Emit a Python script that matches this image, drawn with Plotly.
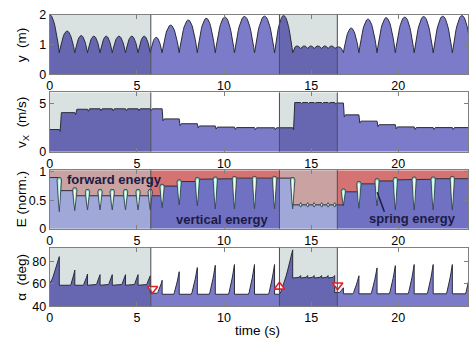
import numpy as np
import plotly.graph_objects as go

# ---------------- data ----------------
# time axis and the two highlighted control intervals (s)
t_max = 24.0
shade_start = [0.0, 13.18]
shade_end = [5.8, 16.5]

# touchdown instants (s); flight k ends at touchdown_t[k]
touchdown_t = [0.55, 1.44, 2.17, 2.89, 3.59, 4.35, 5.07, 5.77, 6.45, 7.43,
               8.47, 9.50, 10.60, 11.75, 12.90, 13.94, 14.40, 14.80, 15.17, 15.60,
               15.97, 16.35, 16.85, 17.74, 18.78, 19.83, 20.91, 22.00, 23.10, 24.20]

# hopping height: apex of each flight and body height at each touchdown (m)
apex_y = [2.00, 1.45, 1.30, 1.28, 1.28, 1.28, 1.28, 1.28, 1.24, 1.65,
          1.82, 1.88, 1.92, 1.94, 1.95, 1.97, 0.95, 0.95, 0.95, 0.95,
          0.95, 0.95, 0.92, 1.55, 1.85, 1.90, 1.92, 1.94, 1.95, 1.97]
touchdown_y = [0.72, 0.72, 0.72, 0.72, 0.72, 0.72, 0.72, 0.72, 0.72, 0.72,
               0.72, 0.72, 0.72, 0.72, 0.72, 0.72, 0.86, 0.86, 0.86, 0.86,
               0.86, 0.86, 0.72, 0.72, 0.72, 0.72, 0.72, 0.72, 0.72, 0.72]

# forward speed during each flight and its dip at touchdown (m/s)
flight_vx = [2.30, 4.05, 4.40, 4.45, 4.45, 4.45, 4.45, 4.45, 4.45, 3.40,
             2.90, 2.67, 2.55, 2.50, 2.48, 2.48, 5.10, 5.10, 5.10, 5.10,
             5.10, 5.10, 5.05, 3.82, 3.17, 2.80, 2.57, 2.50, 2.50, 2.50]
vx_dip = [0.20, 0.20, 0.20, 0.20, 0.20, 0.20, 0.20, 0.20, 0.20, 0.20,
          0.20, 0.20, 0.20, 0.20, 0.20, 0.20, 0.10, 0.10, 0.10, 0.10,
          0.10, 0.10, 0.20, 0.20, 0.20, 0.20, 0.20, 0.20, 0.20, 0.20]

# normalised energy: vertical share during each flight, spring energy spikes
flight_E_vert = [0.90, 0.67, 0.58, 0.58, 0.58, 0.58, 0.58, 0.58, 0.58, 0.75,
                 0.83, 0.87, 0.88, 0.89, 0.89, 0.89, 0.42, 0.42, 0.42, 0.42,
                 0.42, 0.42, 0.42, 0.65, 0.79, 0.84, 0.86, 0.87, 0.88, 0.88]
spike_top = [0.90, 0.72, 0.69, 0.69, 0.69, 0.69, 0.69, 0.69, 0.78, 0.86,
             0.90, 0.91, 0.92, 0.92, 0.92, 0.90, 0.46, 0.46, 0.46, 0.46,
             0.46, 0.46, 0.70, 0.83, 0.88, 0.90, 0.91, 0.91, 0.92, 0.92]
spike_bottom = [0.30, 0.32, 0.33, 0.33, 0.33, 0.33, 0.33, 0.33, 0.37, 0.42,
                0.40, 0.35, 0.35, 0.35, 0.35, 0.35, 0.38, 0.38, 0.38, 0.38,
                0.38, 0.38, 0.40, 0.36, 0.40, 0.33, 0.33, 0.33, 0.33, 0.33]
E_total = 1.03

# leg angle: flight plateau, value at touchdown, duration of the swing ramp
alpha_base = [60.0, 58.6, 58.6, 58.6, 58.6, 58.6, 58.6, 58.6, 51.5, 50.6,
              50.6, 50.6, 50.6, 50.6, 50.6, 50.6, 65.0, 65.0, 65.0, 65.0,
              65.0, 65.0, 52.0, 51.0, 51.0, 51.0, 51.0, 51.0, 51.0, 51.0]
alpha_peak = [84.0, 72.0, 68.6, 68.0, 68.0, 68.0, 68.0, 67.0, 63.0, 70.6,
              74.3, 76.3, 77.0, 77.0, 77.0, 90.0, 67.2, 67.2, 67.2, 67.2,
              67.2, 67.2, 56.3, 67.0, 74.0, 76.0, 77.0, 77.0, 77.0, 77.0]
alpha_ramp = [0.55, 0.25, 0.25, 0.25, 0.25, 0.25, 0.25, 0.25, 0.28, 0.32,
              0.35, 0.35, 0.35, 0.35, 0.35, 0.76, 0.15, 0.15, 0.15, 0.15,
              0.15, 0.15, 0.25, 0.35, 0.35, 0.35, 0.35, 0.35, 0.35, 0.35]

# controller switching events
switch_t = [5.90, 13.18, 16.52]
switch_alpha = [55.5, 57.2, 58.6]
switch_symbol = ["triangle-down", "triangle-up", "triangle-down"]

x_ticks = [0, 5, 10, 15, 20]

# ---------------- curves ----------------
n = len(touchdown_t)

# body height: ballistic arcs between touchdowns
hx, hy = [], []
t0 = 0.0
for k, t1 in enumerate(touchdown_t):
    h, y1 = apex_y[k], touchdown_y[k]
    s = np.linspace(0, 1, 14)
    if k == 0:
        hx += list(t0 + (t1 - t0) * s)
        hy += list(h - (h - y1) * s ** 2)
    else:
        y0 = touchdown_y[k - 1]
        tm = 0.5 * (t0 + t1)
        hx += list(t0 + (tm - t0) * s[1:])
        hy += list(y0 + (h - y0) * (1 - (1 - s[1:]) ** 2))
        hx += list(tm + (t1 - tm) * s[1:])
        hy += list(h - (h - y1) * s[1:] ** 2)
    t0 = t1

# forward speed: constant in flight, notch during stance
vx_x, vx_y = [0.0], [flight_vx[0]]
for k, t in enumerate(touchdown_t):
    v0 = flight_vx[k]
    v1 = flight_vx[k + 1] if k + 1 < n else v0
    vx_x += [t, t + 0.05, t + 0.12]
    vx_y += [v0, min(v0, v1) - vx_dip[k], v1]

# vertical energy level (steps at touchdown)
ex, ey = [0.0], [flight_E_vert[0]]
for k, t in enumerate(touchdown_t):
    nxt = flight_E_vert[k + 1] if k + 1 < n else flight_E_vert[k]
    ex += [t, t]
    ey += [flight_E_vert[k], nxt]

# leg angle: plateau, swing ramp up to touchdown, drop to next plateau
ax_, ay_ = [0.0], [alpha_base[0]]
for k, t in enumerate(touchdown_t):
    b, p, r = alpha_base[k], alpha_peak[k], alpha_ramp[k]
    s = np.linspace(0, 1, 9)
    ax_ += list(t - r + r * s)
    ay_ += list(b + (p - b) * s ** 1.3)
    if k + 1 < n:
        ax_ += [t]
        ay_ += [alpha_base[k + 1]]

# ---------------- layout helpers ----------------
W, H = 474, 349
x_dom = [47 / W, 468 / W]
panels_px = [(8, 70), (89, 150.7), (170, 231), (250.7, 311.7)]
y_ranges = [[0, 2], [0, 6.15], [0, E_total], [40, 92]]
y_ticks = [[0, 1, 2], [0, 5], [0, 0.5, 1], [40, 60, 80]]
y_titles = ["y  (m)", "v<sub>X</sub>  (m/s)", "E (norm.)", "\u03b1  (deg)"]

regions = []
edges = [0.0]
for a, b in zip(shade_start, shade_end):
    if a > edges[-1]:
        regions.append((edges[-1], a, False))
    regions.append((a, b, True))
    edges.append(b)
regions.append((edges[-1], t_max + 1, False))

AX = [("x", "y"), ("x2", "y2"), ("x3", "y3"), ("x4", "y4")]

LINE = "#2b2b3a"
FILL_OUT = "#7b7bc9"
FILL_IN = "#6767b1"
SHADE_BG = "#d9e1e1"
E_BOT_OUT, E_BOT_IN = "#7171c3", "#a0a8d9"
E_TOP_OUT, E_TOP_IN = "#d57373", "#c9a2a1"

fig = go.Figure()


def clip(x, y, a, b):
    x = np.asarray(x, float)
    y = np.asarray(y, float)
    m = (x > a) & (x < b)
    xa = [a] + list(x[m]) + [b]
    ya = [float(np.interp(a, x, y))] + list(y[m]) + [float(np.interp(b, x, y))]
    return xa, ya


def add_area(ax, xs, ys, base, c_in, c_out):
    for a, b, inside in regions:
        xa, ya = clip(xs, ys, a, b)
        fig.add_trace(go.Scatter(
            x=xa + [b, a], y=ya + [base, base], mode="lines", fill="toself",
            fillcolor=c_in if inside else c_out, line=dict(width=0),
            hoverinfo="skip", showlegend=False, xaxis=ax[0], yaxis=ax[1]))


def add_outline(ax, xs, ys):
    fig.add_trace(go.Scatter(
        x=xs, y=ys, mode="lines", line=dict(color=LINE, width=1),
        hoverinfo="skip", showlegend=False, xaxis=ax[0], yaxis=ax[1]))


# panel 1: height
add_area(AX[0], hx, hy, 0, FILL_IN, FILL_OUT)
add_outline(AX[0], hx, hy)

# panel 2: forward speed
add_area(AX[1], vx_x, vx_y, 0, FILL_IN, FILL_OUT)
add_outline(AX[1], vx_x, vx_y)

# panel 3: energy partition
add_area(AX[2], ex, ey, 0, E_BOT_IN, E_BOT_OUT)
add_area(AX[2], ex, ey, E_total, E_TOP_IN, E_TOP_OUT)
add_outline(AX[2], ex, ey)

# spring energy spikes (needle shape during stance)
outer_x, outer_y, inner_x, inner_y = [], [], [], []
for t, top, bot in zip(touchdown_t, spike_top, spike_bottom):
    h = top - bot
    if h > 0.2:
        w = 0.13
        px = [t - w, t - 0.6 * w, t + 0.6 * w, t + w, t + 0.7 * w, t + 0.35 * w, t,
              t - 0.35 * w, t - 0.7 * w, t - w]
        py = [top - 0.04, top, top, top - 0.04, top - 0.35 * h, top - 0.75 * h, bot,
              top - 0.75 * h, top - 0.35 * h, top - 0.04]
        wi = 0.45 * w
        qx = [t - wi, t, t + wi, t + 0.6 * wi, t, t - 0.6 * wi, t - wi]
        qy = [top - 0.05, top - 0.02, top - 0.05, top - 0.45 * h, bot + 0.08,
              top - 0.45 * h, top - 0.05]
    else:
        w = 0.07
        mid = 0.5 * (top + bot)
        px = [t - w, t, t + w, t, t - w]
        py = [mid, top, mid, bot, mid]
        qx = [t - 0.5 * w, t, t + 0.5 * w, t, t - 0.5 * w]
        qy = [mid, mid + 0.5 * (top - mid), mid, mid - 0.5 * (mid - bot), mid]
    outer_x += px + [None]
    outer_y += py + [None]
    inner_x += qx + [None]
    inner_y += qy + [None]

fig.add_trace(go.Scatter(x=outer_x, y=outer_y, mode="lines", fill="toself",
                         fillcolor="#86d6c8", line=dict(color="#3a4450", width=0.9),
                         hoverinfo="skip", showlegend=False, xaxis="x3", yaxis="y3"))
fig.add_trace(go.Scatter(x=inner_x, y=inner_y, mode="lines", fill="toself",
                         fillcolor="#f4ffe8", line=dict(width=0),
                         hoverinfo="skip", showlegend=False, xaxis="x3", yaxis="y3"))

# panel 4: leg angle
add_area(AX[3], ax_, ay_, 0, FILL_IN, FILL_OUT)
add_outline(AX[3], ax_, ay_)
fig.add_trace(go.Scatter(
    x=switch_t, y=switch_alpha, mode="markers",
    marker=dict(symbol=switch_symbol, size=9, color="white",
                line=dict(color="#e0202a", width=1.6)),
    cliponaxis=False, hoverinfo="skip", showlegend=False, xaxis="x4", yaxis="y4"))

# ---------------- axes, shading, labels ----------------
shapes = []
annotations = []
layout = dict(
    width=W, height=H, margin=dict(l=0, r=0, t=0, b=0),
    paper_bgcolor="white", plot_bgcolor="white",
    font=dict(family="Arial, Liberation Sans, sans-serif", size=12.5, color="black"),
    showlegend=False,
)
for i, ((top, bot), ax) in enumerate(zip(panels_px, AX)):
    xname = "xaxis" if i == 0 else f"xaxis{i + 1}"
    yname = "yaxis" if i == 0 else f"yaxis{i + 1}"
    common = dict(ticks="inside", ticklen=4, tickcolor="#808080", showline=True,
                  linecolor="#808080", linewidth=1, mirror="ticks", showgrid=False,
                  zeroline=False, tickfont=dict(size=12.5, color="black"))
    layout[xname] = dict(domain=x_dom, range=[0, t_max], anchor=ax[1],
                         tickvals=x_ticks, **common)
    layout[yname] = dict(domain=[1 - bot / H, 1 - top / H], range=y_ranges[i],
                         anchor=ax[0], tickvals=y_ticks[i], **common)
    for a, b in zip(shade_start, shade_end):
        shapes.append(dict(type="rect", xref=ax[0], yref=f"{ax[1]} domain",
                           x0=a, x1=b, y0=0, y1=1, fillcolor=SHADE_BG,
                           line=dict(width=0), layer="below"))
    for xb in sorted(set(shade_start[1:] + shade_end)):
        shapes.append(dict(type="line", xref=ax[0], yref=f"{ax[1]} domain",
                           x0=xb, x1=xb, y0=0, y1=1,
                           line=dict(color="#4a4a55", width=1), layer="above"))
    annotations.append(dict(text=y_titles[i], xref="paper", yref="paper",
                            x=19 / W, y=1 - (top + bot) / 2 / H, textangle=-90,
                            showarrow=False, xanchor="center", yanchor="middle",
                            font=dict(size=13.5, color="black")))

# energy labels
lab_font = dict(size=13, color="#1b1b45", family="Arial, Liberation Sans, sans-serif")
for txt, cx, cy in [("<b>forward energy</b>", 112.5, 180),
                    ("<b>vertical energy</b>", 220.5, 221),
                    ("<b>spring energy</b>", 412, 220)]:
    annotations.append(dict(text=txt, xref="paper", yref="paper", x=cx / W, y=1 - cy / H,
                            showarrow=False, xanchor="center", yanchor="middle",
                            font=lab_font))
shapes.append(dict(type="line", xref="x3", yref="y3", x0=19.2, y0=0.30, x1=18.79, y1=0.64,
                   line=dict(color="#1b1b45", width=1.5), layer="above"))

annotations.append(dict(text="time (s)", xref="paper", yref="paper", x=256 / W, y=1 - 337 / H,
                        showarrow=False, xanchor="center", yanchor="middle",
                        font=dict(size=13.5, color="black")))

layout["shapes"] = shapes
layout["annotations"] = annotations
fig.update_layout(**layout)

fig.write_html("out.html")
